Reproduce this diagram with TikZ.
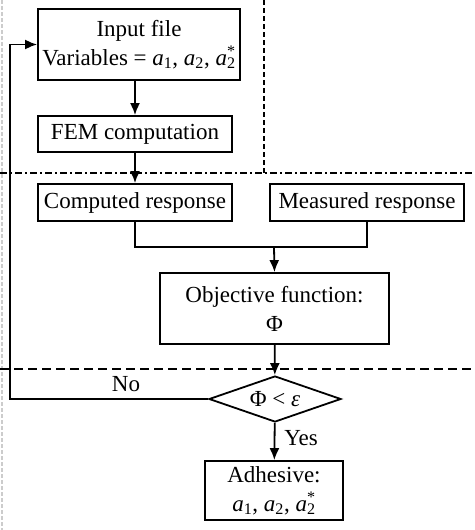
\documentclass[tikz,border=0pt]{standalone}
\usepackage{fontspec}
\setmainfont{Liberation Serif}
\usetikzlibrary{arrows.meta,shapes.geometric}
\newcommand\vsub[1]{\textit{a}\textsubscript{#1}}
\newcommand\vstar{\textit{a}\rlap{\textsubscript{2}}\textsuperscript{*}}
\tikzset{
  box/.style={draw, line width=1.8pt, align=center, inner sep=0pt},
  arr/.style={line width=1.8pt, -{Latex[length=12pt,width=10pt]}},
  ln/.style={line width=1.8pt},
  sep/.style={line width=1.5pt}
}
\begin{document}
\begin{tikzpicture}[x=1pt,y=-1pt,font=\fontsize{23}{29}\selectfont]
\useasboundingbox (0,0) rectangle (474,530);
\draw[gray!40, line width=2pt, dash pattern=on 4pt off 2pt] (1.5,0) -- (1.5,530);
% separators
\draw[sep, dash pattern=on 7pt off 3pt on 2pt off 3pt] (0,173) -- (474,173);
\draw[sep, dash pattern=on 5pt off 3pt] (264,0) -- (264,173);
\draw[sep, dash pattern=on 9pt off 5pt] (0,369) -- (474,369);
% nodes
\node[box, minimum width=202pt, minimum height=71pt] (input) at (139,44.5) {Input file\\Variables = \vsub{1}, \vsub{2}, \vstar};
\node[box, minimum width=194pt, minimum height=36pt] (fem) at (135,134) {FEM computation};
\node[box, minimum width=194pt, minimum height=37pt] (comp) at (135,202.5) {Computed response};
\node[box, minimum width=194pt, minimum height=37pt] (meas) at (367,202.5) {Measured response};
\node[box, minimum width=229pt, minimum height=71pt] (obj) at (274.5,308.5) {Objective function:\\Φ};
\node[box, shape=diamond, aspect=2.87, minimum width=132pt, minimum height=46pt] (dia) at (275,399) {Φ < \textit{ε}};
\node[box, minimum width=138pt, minimum height=59pt] (adh) at (274,490.5) {Adhesive:\\\vsub{1}, \vsub{2}, \vstar};
% connectors
\coordinate (j) at (274,247);
\coordinate (lc) at (10,399);
\draw[arr] (input.south -| fem) -- (fem);
\draw[arr] (fem) -- (comp);
\draw[ln] (comp.south) |- (j) -| (meas.south);
\draw[arr] (j) -- (obj.north);
\draw[arr] (obj) -- (dia);
\draw[arr] (dia) -- (adh);
\draw[arr] (dia.west) -- (lc) |- (input.west);
\node (no) at (126,384) {No};
\node (yes) at (301,438) {Yes};
\end{tikzpicture}
\end{document}
